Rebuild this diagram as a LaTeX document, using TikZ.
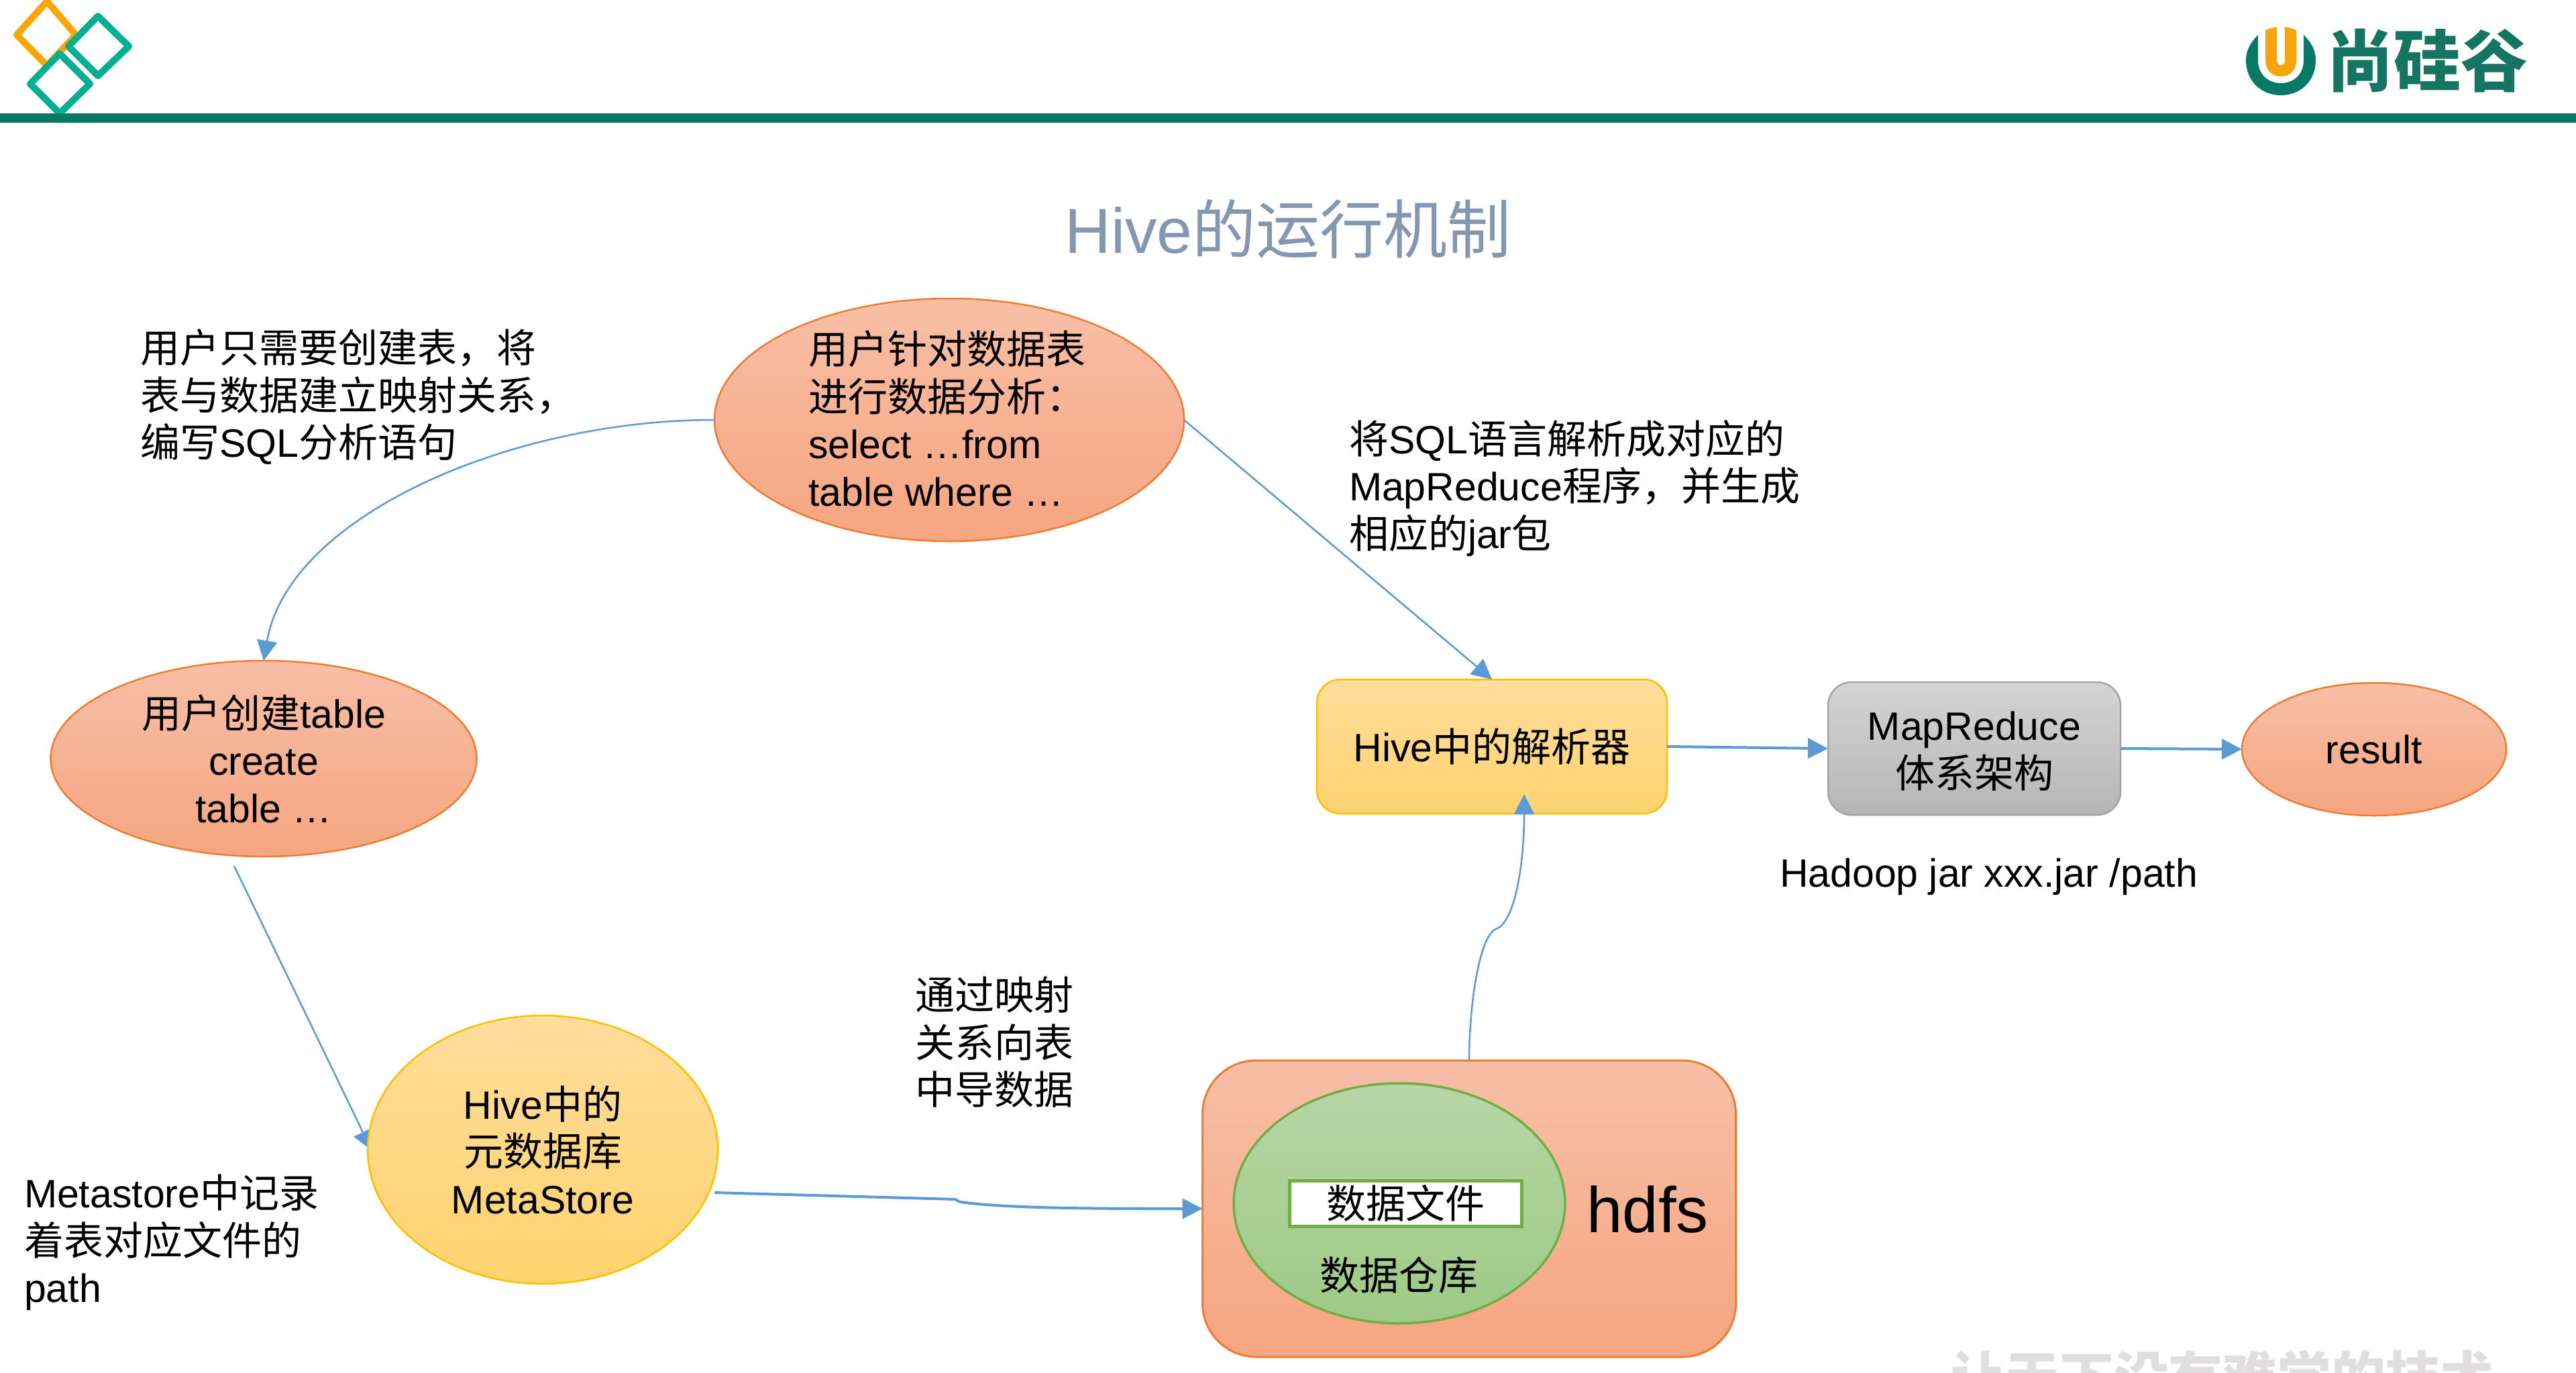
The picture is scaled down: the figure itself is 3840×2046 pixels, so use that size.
\documentclass[tikz,border=0pt]{standalone}
\usepackage{fontspec}
\setmainfont{Liberation Sans}
\newfontfamily\cjk{Noto Sans CJK SC}
\usetikzlibrary{arrows.meta,shapes.geometric,calc}
\definecolor{bargreen}{HTML}{077A66}
\definecolor{logotxt}{HTML}{167562}
\definecolor{teal}{HTML}{00B090}
\definecolor{amber}{HTML}{FFA500}
\definecolor{logoamber}{HTML}{F7A50D}
\definecolor{titleblue}{HTML}{8497B0}
\definecolor{linkblue}{HTML}{5B9BD5}
\definecolor{orangeline}{HTML}{ED7D31}
\definecolor{oTop}{HTML}{F7BFA7}
\definecolor{oBot}{HTML}{F6A580}
\definecolor{yTop}{HTML}{FFDD9C}
\definecolor{yBot}{HTML}{FFD36E}
\definecolor{yLine}{HTML}{FFC000}
\definecolor{gTop}{HTML}{B7D6A6}
\definecolor{gBot}{HTML}{9DC985}
\definecolor{gLine}{HTML}{70AD47}
\definecolor{grayTop}{HTML}{D4D4D4}
\definecolor{grayBot}{HTML}{B5B5B5}
\definecolor{grayLine}{HTML}{A5A5A5}
\definecolor{wmgray}{HTML}{E0DEDF}
\newcommand{\T}[1]{{\cjk #1}}
\pgfdeclarelayer{under}
\pgfsetlayers{under,main}
\tikzset{
  x=1pt,y=-1pt,
  every node/.style={inner sep=0pt,outer sep=0pt,text=black,font=\fontsize{59}{70.5}\selectfont},
  orangeell/.style={ellipse,draw=orangeline,line width=2.5pt,top color=oTop,bottom color=oBot,align=center},
  yellowell/.style={ellipse,draw=yLine,line width=2.5pt,top color=yTop,bottom color=yBot,align=center},
  labeltext/.style={align=left,anchor=north west},
  link/.style={draw=linkblue,line width=2.5pt,-{Triangle[length=30pt,width=30pt]}},
  thicklink/.style={link,line width=4pt},
  diamondlogo/.style={line width=10pt,line join=round},
}
\begin{document}
\begin{tikzpicture}
\useasboundingbox (0,0) rectangle (3840,2046);
\begin{pgfonlayer}{under}
\fill[white] (0,0) rectangle (3840,2046);
\end{pgfonlayer}

% corner logo
\draw[diamondlogo,amber] (70,2) -- (113,52) -- (70,98) -- (25,52) -- cycle;
\draw[diamondlogo,teal] (146,24) -- (192,69) -- (146,113) -- (102,69) -- cycle;
\draw[diamondlogo,teal] (89,80) -- (134,125) -- (89,169) -- (45,125) -- cycle;
\fill[bargreen] (0,169) rectangle (3840,183);

% right logo
\fill[bargreen] (3366,52) .. controls (3352,66) and (3348,78) .. (3348,90) .. controls (3348,120) and (3370,142) .. (3400,142) .. controls (3430,142) and (3452,120) .. (3452,90) .. controls (3452,78) and (3448,66) .. (3434,52) -- (3434,90) .. controls (3434,110) and (3420,124) .. (3400,124) .. controls (3380,124) and (3366,110) .. (3366,90) -- cycle;
\fill[logoamber] (3377,45) .. controls (3382,43) and (3388,41) .. (3394,40) -- (3394,90) .. controls (3394,100) and (3406,100) .. (3406,90) -- (3406,40) .. controls (3412,41) and (3418,43) .. (3423,45) -- (3423,90) .. controls (3423,105) and (3413,114) .. (3400,114) .. controls (3387,114) and (3377,105) .. (3377,90) -- cycle;
\node[text=logotxt,font=\cjk\bfseries\fontsize{100}{100}\selectfont] (brand) at (3618,90) {尚硅谷};

% title
\node[text=titleblue,font=\fontsize{95}{110}\selectfont] (title) at (1920,341) {Hive\T{的运行机制}};

% main nodes
\node[orangeell,minimum width=700pt,minimum height=362pt] (query) at (1415,626) {};
\node[labeltext] (querytext) at (1205,493) {\T{用户针对数据表}\\\T{进行数据分析：}\\select …from\\table where …};
\node[orangeell,minimum width=635pt,minimum height=292pt] (create) at (393,1131) {\T{用户创建}table\\create\\table …};
\node[yellowell,minimum width=522pt,minimum height=400pt] (meta) at (809,1714) {Hive\T{中的}\\\T{元数据库}\\MetaStore};
\node[draw=yLine,line width=2.5pt,rounded corners=35pt,top color=yTop,bottom color=yBot,minimum width=522pt,minimum height=200pt] (parser) at (2224,1113) {Hive\T{中的解析器}};
\node[draw=grayLine,line width=2.5pt,rounded corners=35pt,top color=grayTop,bottom color=grayBot,minimum width=436pt,minimum height=198pt] (mr) at (2943,1116) {};
\node[align=center] (mrtext) at (2943,1120) {MapReduce\\\T{体系架构}};
\node[orangeell,minimum width=394pt,minimum height=198pt] (result) at (3539,1117) {result};

% hdfs
\node[draw=orangeline,line width=3pt,rounded corners=80pt,top color=oTop,bottom color=oBot,minimum width=795pt,minimum height=442pt] (hdfs) at (2190,1802) {};
\node[ellipse,draw=gLine,line width=3.5pt,top color=gTop,bottom color=gBot,minimum width=494pt,minimum height=358pt] (dw) at (2086,1794) {};
\node[draw=gLine,fill=white,line width=5pt,minimum width=346pt,minimum height=68pt] (file) at (2095,1794) {\T{数据文件}};
\node (dwtext) at (2085,1901) {\T{数据仓库}};
\node[font=\fontsize{96}{110}\selectfont] (hdfstext) at (2456,1803) {hdfs};

% free labels
\node[labeltext] (t1) at (209,491) {\T{用户只需要创建表，将}\\\T{表与数据建立映射关系，}\\\T{编写}SQL\T{分析语句}};
\node[labeltext] (t2) at (2011,626) {\T{将}SQL\T{语言解析成对应的}\\MapReduce\T{程序，并生成}\\\T{相应的}jar\T{包}};
\node[labeltext] (t3) at (2653,1280) {Hadoop jar xxx.jar /path};
\node[labeltext] (t4) at (1364,1456) {\T{通过映射}\\\T{关系向表}\\\T{中导数据}};
\node[labeltext] (t5) at (36,1751) {Metastore\T{中记录}\\\T{着表对应文件的}\\path};

% watermark
\node[text=wmgray,font=\cjk\bfseries\fontsize{81}{81}\selectfont,anchor=north west] (wm) at (2908,2012) {让天下没有难学的技术};

% connectors
\coordinate (cstart) at (349,1291);
\coordinate (hstart) at (2190,1581);
\coordinate (mout) at ($(meta.east)+(-5,64)$);
\coordinate (mtip) at ($(meta.west)+(6,1)$);
\draw[link] (query.west) .. controls (760,626) and (430,770) .. (create.north);
\begin{pgfonlayer}{under}
\draw[link] (cstart) -- (mtip);
\end{pgfonlayer}
\draw[thicklink] (mout) -- (1424,1788) .. controls (1427,1789) and (1427,1791) .. (1432,1792) .. controls (1500,1802) and (1650,1802) .. (hdfs.west);
\draw[link] (query.east) -- (parser.north);
\draw[thicklink] (parser.east) -- (mr.west);
\draw[thicklink] (mr.east) -- (result.west);
\draw[link] (hstart) .. controls (2190,1500) and (2205,1395) .. (2230,1385) .. controls (2258,1375) and (2272,1290) .. (2272,1184);
\end{tikzpicture}
\end{document}
